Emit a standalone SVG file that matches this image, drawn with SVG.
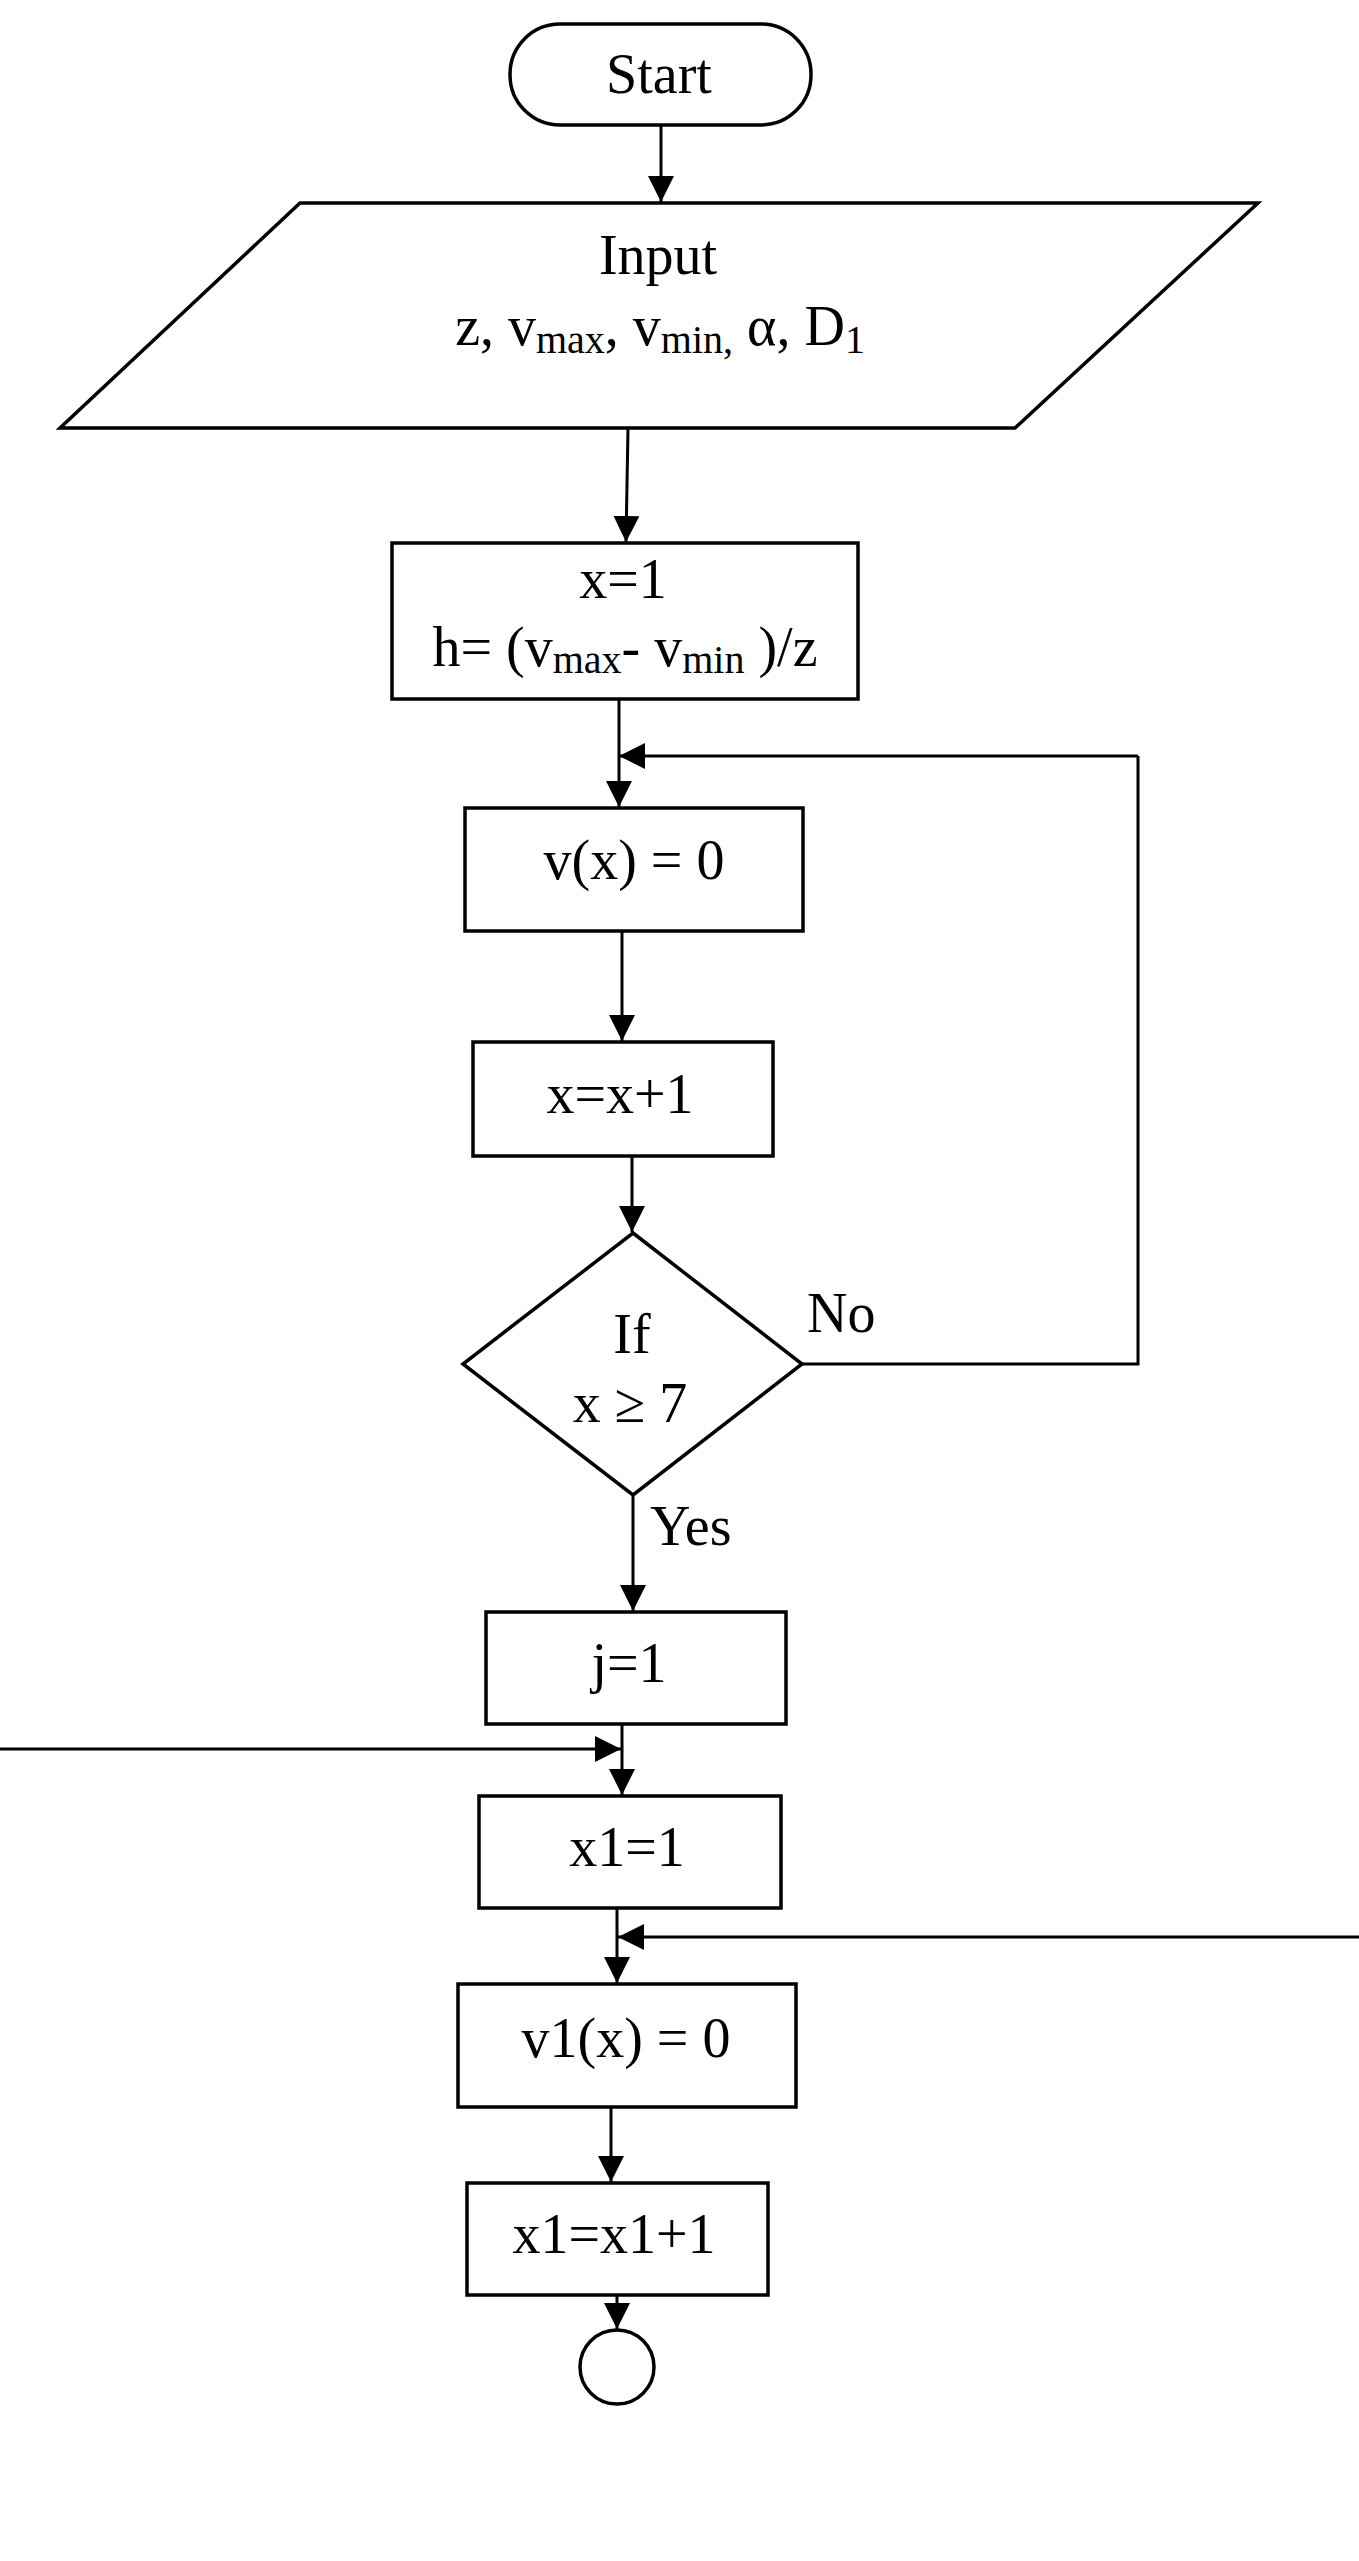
<svg xmlns="http://www.w3.org/2000/svg" width="1359" height="2561" viewBox="0 0 1359 2561">
<style>
.shape{fill:#fff;stroke:#000;stroke-width:3.5}
.conn{fill:none;stroke:#000;stroke-width:3}
.t{font-family:"Liberation Serif","Times New Roman",serif;font-size:56px;fill:#000;text-anchor:middle}
.sub{font-size:40px}
.lbl{font-family:"Liberation Serif","Times New Roman",serif;font-size:56px;fill:#000}
</style>
<defs>
<marker id="arr" viewBox="0 0 26 26" markerWidth="26" markerHeight="26" refX="26" refY="13" orient="auto" markerUnits="userSpaceOnUse">
<path d="M0,0 L26,13 L0,26 z" fill="#000"/>
</marker>
</defs>
<rect width="1359" height="2561" fill="#fff"/>
<g id="connectors">
<line class="conn" x1="661" y1="125" x2="661" y2="202" marker-end="url(#arr)"/>
<line class="conn" x1="628" y1="428" x2="626" y2="542" marker-end="url(#arr)"/>
<line class="conn" x1="619" y1="699" x2="619" y2="807" marker-end="url(#arr)"/>
<line class="conn" x1="1138" y1="756" x2="619" y2="756" marker-end="url(#arr)"/>
<polyline class="conn" points="802,1364 1138,1364 1138,756"/>
<line class="conn" x1="622" y1="931" x2="622" y2="1041" marker-end="url(#arr)"/>
<line class="conn" x1="632" y1="1156" x2="632" y2="1232" marker-end="url(#arr)"/>
<line class="conn" x1="633" y1="1495" x2="633" y2="1611" marker-end="url(#arr)"/>
<line class="conn" x1="622" y1="1724" x2="622" y2="1795" marker-end="url(#arr)"/>
<line class="conn" x1="0" y1="1749" x2="621" y2="1749" marker-end="url(#arr)"/>
<line class="conn" x1="617" y1="1908" x2="617" y2="1983" marker-end="url(#arr)"/>
<line class="conn" x1="1359" y1="1937" x2="618" y2="1937" marker-end="url(#arr)"/>
<line class="conn" x1="611" y1="2107" x2="611" y2="2182" marker-end="url(#arr)"/>
<line class="conn" x1="617" y1="2295" x2="617" y2="2329" marker-end="url(#arr)"/>
<text class="lbl" x="807" y="1332">No</text>
<text class="lbl" x="650" y="1545">Yes</text>
</g>
<g id="start">
<rect class="shape" x="510" y="24" width="301" height="101" rx="50" ry="50"/>
<text class="t" x="659" y="93">Start</text>
</g>
<g id="input">
<polygon class="shape" points="300,203 1258,203 1015,428 60,428"/>
<text class="t" x="658" y="274">Input</text>
<text class="t" x="660" y="345">z, v<tspan class="sub" dy="8">max</tspan><tspan dy="-8">, v</tspan><tspan class="sub" dy="8">min,</tspan><tspan dy="-8"> α, D</tspan><tspan class="sub" dy="8">1</tspan></text>
</g>
<g id="init">
<rect class="shape" x="392" y="543" width="466" height="156"/>
<text class="t" x="623" y="598">x=1</text>
<text class="t" x="625" y="666">h= (v<tspan class="sub" dy="7">max</tspan><tspan dy="-7">- v</tspan><tspan class="sub" dy="7">min</tspan><tspan dy="-7"> )/z</tspan></text>
</g>
<g id="vx">
<rect class="shape" x="465" y="808" width="338" height="123"/>
<text class="t" x="634" y="879">v(x) = 0</text>
</g>
<g id="incx">
<rect class="shape" x="473" y="1042" width="300" height="114"/>
<text class="t" x="620" y="1113">x=x+1</text>
</g>
<g id="decision">
<polygon class="shape" points="633,1233 802,1364 633,1495 463,1364"/>
<text class="t" x="632" y="1353">If</text>
<text class="t" x="630" y="1422">x ≥ 7</text>
</g>
<g id="j1">
<rect class="shape" x="486" y="1612" width="300" height="112"/>
<text class="t" x="629" y="1682">j=1</text>
</g>
<g id="x1init">
<rect class="shape" x="479" y="1796" width="302" height="112"/>
<text class="t" x="627" y="1866">x1=1</text>
</g>
<g id="v1x">
<rect class="shape" x="458" y="1984" width="338" height="123"/>
<text class="t" x="626" y="2057">v1(x) = 0</text>
</g>
<g id="x1inc">
<rect class="shape" x="467" y="2183" width="301" height="112"/>
<text class="t" x="614" y="2253">x1=x1+1</text>
</g>
<g id="connector-circle">
<circle class="shape" cx="617" cy="2367" r="37"/>
</g>
</svg>
